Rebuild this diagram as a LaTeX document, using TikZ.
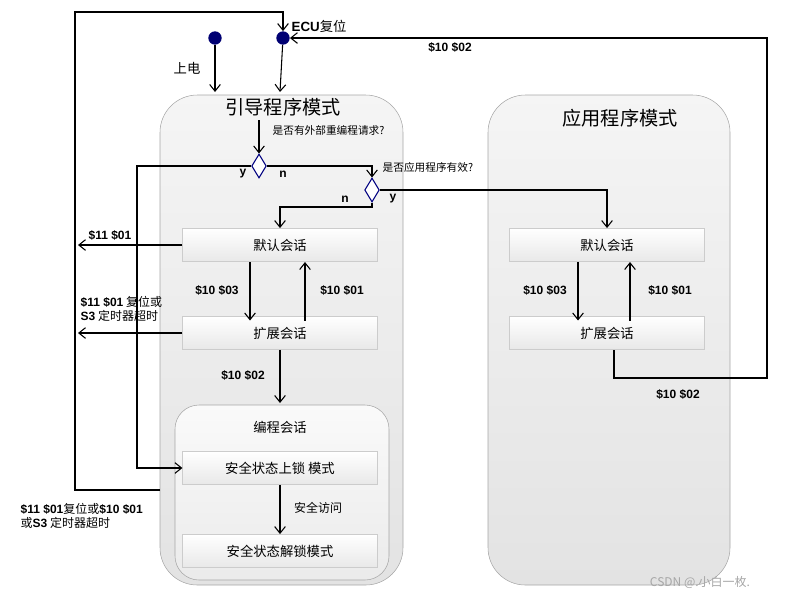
\documentclass[tikz,border=0pt]{standalone}
\usepackage{fontspec}
\setmainfont{Noto Sans CJK SC}
\newfontfamily\lat{Liberation Sans}
\usetikzlibrary{positioning,shapes.geometric,arrows.meta}
\begin{document}
\begin{tikzpicture}[x=0.75pt,y=-0.75pt,>={Straight Barb[length=5pt,width=8pt]},
	mode/.style={draw=gray!70,rounded corners=28pt,top color=gray!8,bottom color=gray!22},
	sess/.style={draw=gray!40,minimum width=146pt,minimum height=25pt,top color=white,bottom color=gray!18,font=\normalsize},
	dot/.style={circle,fill=blue!45!black,inner sep=0pt,minimum size=10pt},
	dec/.style={diamond,draw=blue!50!black,thick,fill=white,inner sep=0pt,minimum width=11pt,minimum height=18pt},
	lab/.style={font=\lat\bfseries\small},
	line/.style={thick,->}]
	\useasboundingbox (0,0) rectangle (787,604);
	% modes
	\draw[mode] (160,95) rectangle (403,585);
	\draw[mode] (488,95) rectangle (730,585);
	\draw[mode,rounded corners=18pt,top color=gray!4,bottom color=gray!16] (175,405) rectangle (389,580);
	\node (boot) at (283,107) {\Large 引导程序模式};
	\node (app) at (620,118) {\Large 应用程序模式};
	\node (prog) at (280,427) {编程会话};
	% sessions
	\node[sess] (bdef) at (280,245) {默认会话};
	\node[sess] (bext) at (280,333) {扩展会话};
	\node[sess] (adef) at (607,245) {默认会话};
	\node[sess] (aext) at (607,333) {扩展会话};
	\node[sess] (lock) at (280,468) {安全状态上锁 模式};
	\node[sess] (unlock) at (280,551) {安全状态解锁模式};
	% start points
	\node[dot] (pwr) at (215,38) {};
	\node[dot] (ecu) at (283,38) {};
	\node at (187,68) {上电};
	\node[anchor=west,font=\lat\bfseries] at (287,26) {ECU\normalfont\rmfamily 复位};
	\node[dec] (d1) at (259,166) {};
	\node[dec] (d2) at (372,190) {};
	\node[anchor=west,font=\footnotesize] at (268,130) {是否有外部重编程请求?};
	\node[anchor=west,font=\footnotesize] at (378,167) {是否应用程序有效?};
	\node[lab] at (243,174) {y};
	\node[lab] at (283,174) {n};
	\node[lab] at (345,199) {n};
	\node[lab] at (393,199) {y};
	\coordinate (b1) at (215,92);
	\coordinate (b2) at (280,92);
	\coordinate (l1) at (78,245);
	\coordinate (l2) at (78,333);
	% connectors
	\draw[line] (pwr) -- (b1);
	\draw[line] (ecu) -- (b2);
	\draw[line] (259,120) -- (d1.north);
	\draw[line] (d1.east) -| (d2.north);
	\draw[line] (d2.south) |- (280,207) -- (bdef.north);
	\draw[line] (d2.east) -| (adef.north);
	\draw[line] (d1.west) -| (137,468) -- (lock.west);
	\draw[line] (bdef.west) -- (l1);
	\draw[line] (bext.west) -- (l2);
	\draw[line] (250,262) -- (250,320.5);
	\draw[line] (305,320.5) -- (305,262);
	\draw[line] (bext.south) -- (280,403);
	\draw[line] (lock.south) -- (unlock.north);
	\draw[line] (578,262) -- (578,320.5);
	\draw[line] (630,320.5) -- (630,262);
	\draw[line] (614,350) |- (767,378) |- (ecu.east);
	\draw[line] (160,490) -| (75,12) -| (ecu.north);
	% labels
	\node[lab] at (217,290) {\$10 \$03};
	\node[lab] at (342,290) {\$10 \$01};
	\node[lab] at (243,375) {\$10 \$02};
	\node[lab] at (545,290) {\$10 \$03};
	\node[lab] at (670,290) {\$10 \$01};
	\node[lab] at (678,394) {\$10 \$02};
	\node[lab] at (450,47) {\$10 \$02};
	\node[lab] at (110,235) {\$11 \$01};
	\node[font=\small] at (318,508) {安全访问};
	\node[font=\small,anchor=west,align=left] at (76,309) {{\lat\bfseries \$11 \$01} 复位或\\{\lat\bfseries S3} 定时器超时};
	\node[font=\small,anchor=west,align=left] at (16,516) {{\lat\bfseries \$11 \$01}复位或{\lat\bfseries \$10 \$01}\\或{\lat\bfseries S3} 定时器超时};
	\node[font=\small,text=gray!70] at (700,582) {CSDN @.小白一枚.};
\end{tikzpicture}
\end{document}
